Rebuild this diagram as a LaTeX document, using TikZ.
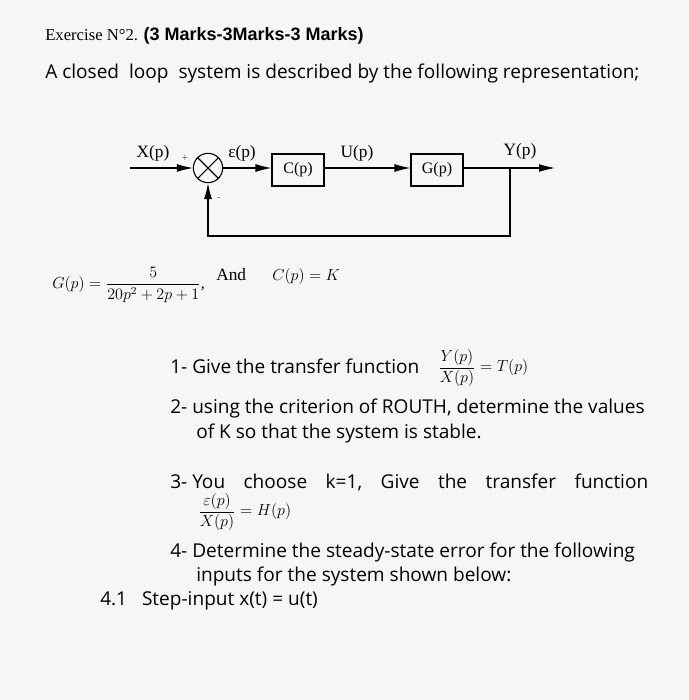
\documentclass[tikz,border=0pt]{standalone}
\usepackage{amsmath}
\usepackage{fontspec}
\setsansfont{Open Sans}
\usetikzlibrary{arrows.meta}
\newfontfamily\tnr{Liberation Serif}
\newfontfamily\hv{Liberation Sans}
\begin{document}
\begin{tikzpicture}[x=0.75pt,y=-0.75pt,
  blk/.style={draw,line width=0.8pt,minimum width=52pt*0.75,minimum height=32pt*0.75,font=\tnr\fontsize{12}{14}\selectfont},
  sig/.style={line width=0.8pt,-{Latex[length=12pt,width=6pt]}},
  lbl/.style={font=\tnr\fontsize{13}{15}\selectfont},
  txt/.style={font=\sffamily\fontsize{14.3}{16}\selectfont,anchor=base west,inner sep=0}]
\fill[gray!7] (0,0) rectangle (689,700);
\useasboundingbox (0,0) rectangle (689,700);
% title
\node[anchor=base west,inner sep=0] (title) at (45,40) {\tnr\fontsize{12.5}{14}\selectfont Exercise N°2. {\hv\bfseries\fontsize{13.5}{15}\selectfont(3 Marks-3Marks-3 Marks)}};
\node[txt] (intro) at (45,78) {\fontsize{14.3}{16}\selectfont A closed\ \ loop\ \ system is described by the following representation;};
% block diagram
\coordinate (xin) at (130,168);
\node[draw,circle,line width=0.8pt,minimum size=22pt,inner sep=0] (sum) at (208,168) {};
\draw[line width=0.8pt] (sum.north west)--(sum.south east) (sum.north east)--(sum.south west);
\node[blk] (C) at (298,170) {C(p)};
\node[blk] (G) at (437,170) {G(p)};
\coordinate (yout) at (555,168);
\coordinate (tap) at (510,168);
\coordinate (fb) at (510,236);
\draw[sig] (xin) -- (sum.west);
\draw[sig] (sum.east) -- (C.west|-sum);
\draw[sig] (C.east|-sum) -- (G.west|-sum);
\draw[sig] (G.east|-sum) -- (yout);
\draw[sig] (tap) -- (fb) -| (sum.south);
\node[lbl] (lx) at (153,153) {X(p)};
\node[lbl] (le) at (242,153) {ε(p)};
\node[lbl] (lu) at (357,153) {U(p)};
\node[lbl] (ly) at (520,151) {Y(p)};
\node[font=\tiny] (plus) at (185,158) {+};
\node[font=\tiny] (minus) at (219,199) {-};
% G and C
\node[anchor=west,inner sep=0,font=\tnr\fontsize{12}{14}\selectfont] (geq) at (52,285) {$G(p)=\dfrac{5}{20p^2+2p+1}$,};
\node[anchor=base west,inner sep=0,font=\tnr\fontsize{13}{15}\selectfont] (and) at (216,280) {And};
\node[anchor=base west,inner sep=0,font=\tnr\fontsize{12}{14}\selectfont] (ceq) at (272,280) {$C(p)=K$};
% questions
\node[txt] (q1) at (170,373) {1- Give the transfer function};
\node[anchor=west,inner sep=0,font=\tnr\fontsize{12}{14}\selectfont] (f1) at (438,368) {$\dfrac{Y(p)}{X(p)}=T(p)$};
\node[txt] (q2) at (170,413) {2- using the criterion of ROUTH, determine the values};
\node[txt] (q2b) at (196,438) {of K so that the system is stable.};
\node[txt,text width=478pt*0.75,align=justify] (q3) at (170,488) {3- You\hfill choose\hfill k=1,\hfill Give\hfill the\hfill transfer\hfill function};
\node[anchor=west,inner sep=0,font=\tnr\fontsize{12}{14}\selectfont] (f3) at (198,512) {$\dfrac{\varepsilon(p)}{X(p)}=H(p)$};
\node[txt] (q4) at (170,557) {4- Determine the steady-state error for the following};
\node[txt] (q4b) at (196,581) {inputs for the system shown below:};
\node[txt] (q41) at (100,605) {4.1\ \ \ Step-input x(t) = u(t)};
\end{tikzpicture}
\end{document}
